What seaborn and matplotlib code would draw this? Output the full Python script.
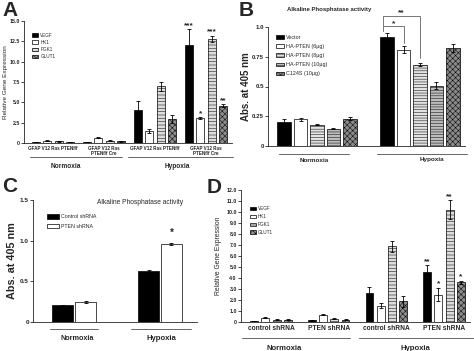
import pandas as pd
import numpy as np
import matplotlib
matplotlib.use('Agg')
import matplotlib.pyplot as plt
from matplotlib.patches import Patch
from matplotlib.lines import Line2D
import seaborn as sns

# %% data
# panel A - relative gene expression, astrocytes
a_conds = ['N1', 'N2', 'H1', 'H2']
a_ticks = ['GFAP V12 Ras PTENf/f', 'GFAP V12 Ras\nPTENf/f Cre',
           'GFAP V12 Ras PTENf/f', 'GFAP V12 Ras\nPTENf/f Cre']
a_genes = ['VEGF', 'HK1', 'PGK1', 'GLUT1']
a_vegf = [0.1, 0.15, 4.1, 12.1]
a_vegf_err = [0.02, 0.03, 1.05, 1.9]
a_hk1 = [0.3, 0.65, 1.45, 3.05]
a_hk1_err = [0.03, 0.05, 0.25, 0.15]
a_pgk1 = [0.2, 0.3, 6.95, 12.8]
a_pgk1_err = [0.03, 0.04, 0.5, 0.4]
a_glut1 = [0.15, 0.2, 2.95, 4.6]
a_glut1_err = [0.02, 0.03, 0.5, 0.15]
a_stars = {('H2', 'VEGF'): '***', ('H2', 'HK1'): '*', ('H2', 'PGK1'): '***', ('H2', 'GLUT1'): '**'}

# panel B - alkaline phosphatase, PTEN overexpression
b_conds = ['Normoxia', 'Hypoxia']
b_groups = ['Vector', 'HA-PTEN (6µg)', 'HA-PTEN (8µg)', 'HA-PTEN (10µg)', 'C124S (10µg)']
b_vector = [0.2, 0.916]
b_vector_err = [0.03, 0.034]
b_ha6 = [0.224, 0.81]
b_ha6_err = [0.01, 0.03]
b_ha8 = [0.178, 0.683]
b_ha8_err = [0.004, 0.012]
b_ha10 = [0.145, 0.507]
b_ha10_err = [0.004, 0.03]
b_c124s = [0.23, 0.824]
b_c124s_err = [0.012, 0.033]

# panel C - alkaline phosphatase, PTEN knockdown
c_conds = ['Normoxia', 'Hypoxia']
c_groups = ['Control shRNA', 'PTEN shRNA']
c_control = [0.206, 0.63]
c_control_err = [0.008, 0.015]
c_pten = [0.243, 0.96]
c_pten_err = [0.01, 0.017]

# panel D - relative gene expression, shRNA
d_conds = ['Nc', 'Np', 'Hc', 'Hp']
d_ticks = ['control shRNA', 'PTEN shRNA', 'control shRNA', 'PTEN shRNA']
d_genes = ['VEGF', 'HK1', 'PGK1', 'GLUT1']
d_vegf = [0.08, 0.15, 2.6, 4.55]
d_vegf_err = [0.03, 0.05, 0.55, 0.6]
d_hk1 = [0.38, 0.67, 1.5, 2.5]
d_hk1_err = [0.06, 0.05, 0.25, 0.6]
d_pgk1 = [0.22, 0.3, 6.9, 10.2]
d_pgk1_err = [0.04, 0.05, 0.5, 0.85]
d_glut1 = [0.22, 0.22, 1.9, 3.6]
d_glut1_err = [0.04, 0.04, 0.5, 0.12]
d_stars = {('Hp', 'VEGF'): '**', ('Hp', 'HK1'): '*', ('Hp', 'PGK1'): '**', ('Hp', 'GLUT1'): '*'}

# %% styles
gene_fill = ['black', 'white', '#dcdcdc', '#8c8c8c']
gene_hatch = [None, None, '-----', 'xxxxxx']
b_fill = ['black', 'white', '#e2e2e2', '#bdbdbd', '#8a8a8a']
b_hatch = [None, None, '------', '------', 'xxxxxx']
c_fill = ['black', 'white']
c_hatch = [None, None]

sns.set_style('ticks')
plt.rcParams['font.family'] = ['Liberation Sans', 'DejaVu Sans']
plt.rcParams['hatch.linewidth'] = 0.35
plt.rcParams['axes.linewidth'] = 0.6

W, H = 474, 351
fig = plt.figure(figsize=(W / 100, H / 100), dpi=100)


def ax_px(left, top, right, bottom):
    return fig.add_axes([left / W, 1 - bottom / H, (right - left) / W, (bottom - top) / H])


def long_df(conds, groups, vals, errs):
    rows = []
    for g, v, e in zip(groups, vals, errs):
        for c, vv, ee in zip(conds, v, e):
            rows.append(dict(cond=c, group=g, val=vv, err=ee))
    return pd.DataFrame(rows)


def bars(ax, df, conds, groups, fills, hatches, width, gap):
    sns.barplot(data=df, x='cond', y='val', hue='group', order=conds, hue_order=groups,
                palette=fills, edgecolor='black', linewidth=0.5, errorbar=None,
                width=width, gap=gap, legend=False, ax=ax)
    for cont, h, g in zip(ax.containers, hatches, groups):
        sub = df[df['group'] == g].set_index('cond').loc[conds]
        for bar, e in zip(cont, sub['err']):
            if h:
                bar.set_hatch(h)
            xc = bar.get_x() + bar.get_width() / 2
            ax.errorbar(xc, bar.get_height(), yerr=e, fmt='none', ecolor='black',
                        elinewidth=0.6, capsize=1.3, capthick=0.6, zorder=5)


def style_ax(ax, ylim, yticks, ytl, tsize):
    sns.despine(ax=ax)
    ax.set_ylim(*ylim)
    ax.set_yticks(yticks)
    ax.set_yticklabels(ytl, fontsize=tsize, fontweight='bold')
    ax.tick_params(axis='y', length=2, width=0.6, pad=1)
    ax.tick_params(axis='x', length=0)
    ax.set_xlabel('')


def legend(ax, groups, fills, hatches, loc, size, anchor, spacing=0.45, hl=1.4, hh=0.7):
    handles = [Patch(facecolor=f, edgecolor='black', hatch=h, linewidth=0.5)
               for f, h in zip(fills, hatches)]
    ax.legend(handles, groups, loc=loc, bbox_to_anchor=anchor, frameon=False,
              fontsize=size, handlelength=hl, handleheight=hh, labelspacing=spacing,
              handletextpad=0.4, borderaxespad=0)


def group_line(x0, x1, y, label, xl, yl, size):
    fig.add_artist(Line2D([x0 / W, x1 / W], [1 - y / H] * 2, color='#666666', lw=0.7))
    fig.text(xl / W, 1 - yl / H, label, ha='center', va='center', fontsize=size,
             fontweight='bold')


def stars(ax, df, conds, groups, marks, off, size):
    for (c, g), s in marks.items():
        cont = ax.containers[groups.index(g)]
        bar = cont[conds.index(c)]
        e = df[(df['cond'] == c) & (df['group'] == g)]['err'].iloc[0]
        ax.text(bar.get_x() + bar.get_width() / 2, bar.get_height() + e + off, s,
                ha='center', va='center', fontsize=size, fontweight='bold')


# %% panel A
ax = ax_px(24, 21, 232, 143)
df_a = long_df(a_conds, a_genes, [a_vegf, a_hk1, a_pgk1, a_glut1],
               [a_vegf_err, a_hk1_err, a_pgk1_err, a_glut1_err])
bars(ax, df_a, a_conds, a_genes, gene_fill, gene_hatch, 0.9, 0.3)
style_ax(ax, (0, 15), np.arange(0, 15.1, 2.5), ['0', '2.5', '5.0', '7.5', '10.0', '12.5', '15.0'], 3.8)
ax.set_xlim(-0.57, 3.51)
ax.set_xticks(range(4))
ax.set_xticklabels(a_ticks, fontsize=3.3, fontweight='bold', va='top', linespacing=1.1)
ax.tick_params(axis='x', pad=2)
ax.set_ylabel('Relative Gene Expression', fontsize=4.6, labelpad=1)
legend(ax, a_genes, gene_fill, gene_hatch, 'upper left', 3.3, (0.03, 0.92))
stars(ax, df_a, a_conds, a_genes, a_stars, 0.45, 6)
group_line(30, 122, 157, 'Normoxia', 66, 167, 4.7)
group_line(128, 233, 157, 'Hypoxia', 177, 167, 4.7)
fig.text(2 / W, 1 - 1 / H, 'A', fontsize=15, fontweight='bold', va='top', ha='left')

# %% panel B
ax = ax_px(268, 27, 465, 146)
df_b = long_df(b_conds, b_groups, [b_vector, b_ha6, b_ha8, b_ha10, b_c124s],
               [b_vector_err, b_ha6_err, b_ha8_err, b_ha10_err, b_c124s_err])
bars(ax, df_b, b_conds, b_groups, b_fill, b_hatch, 0.8, 0.2)
style_ax(ax, (0, 1.0), [0, 0.25, 0.5, 0.75, 1.0], ['0', '0.25', '0.5', '0.75', '1.0'], 4.4)
ax.set_xlim(-0.476, 1.437)
ax.set_xticks([])
ax.set_ylabel('Abs. at 405 nm', fontsize=7, fontweight='bold', labelpad=0.5)
legend(ax, b_groups, b_fill, b_hatch, 'upper left', 3.9, (0.03, 0.95), spacing=0.75)
# significance brackets
vec = ax.containers[0][1]
ha6 = ax.containers[1][1]
ha8 = ax.containers[2][1]
xl = vec.get_x() + vec.get_width() * 0.2
x6 = ha6.get_x() + ha6.get_width() / 2
x8 = ha8.get_x() + ha8.get_width() / 2
kw = dict(color='#777777', lw=0.7, clip_on=False)
ax.plot([xl, xl, x6, x6], [0.965, 1.008, 1.008, 0.866], **kw)
ax.plot([xl, xl, x8, x8], [1.008, 1.092, 1.092, 0.739], **kw)
ax.text((xl + x6) / 2, 1.03, '*', ha='center', va='center', fontsize=6, fontweight='bold')
ax.text((xl + x8) / 2, 1.118, '**', ha='center', va='center', fontsize=6, fontweight='bold')
group_line(279, 349, 154, 'Normoxia', 314, 160, 4.6)
group_line(377, 467, 154, 'Hypoxia', 432, 160, 4.6)
fig.text(329 / W, 1 - 9 / H, 'Alkaline Phosphatase activity', fontsize=4.3,
         fontweight='bold', ha='center', va='center')
fig.text(239 / W, 1 - 1 / H, 'B', fontsize=15, fontweight='bold', va='top', ha='left')

# %% panel C
ax = ax_px(33, 200, 197, 322)
df_c = long_df(c_conds, c_groups, [c_control, c_pten], [c_control_err, c_pten_err])
bars(ax, df_c, c_conds, c_groups, c_fill, c_hatch, 0.53, 0.07)
style_ax(ax, (0, 1.5), [0, 0.5, 1.0, 1.5], ['0', '0.5', '1.0', '1.5'], 4.6)
ax.set_xlim(-0.48, 1.43)
ax.set_xticks([])
ax.set_ylabel('Abs. at 405 nm', fontsize=7.8, fontweight='bold', labelpad=2)
legend(ax, c_groups, c_fill, c_hatch, 'upper left', 3.8, (0.07, 0.9), spacing=0.9, hl=2.3, hh=0.9)
stars(ax, df_c, c_conds, c_groups, {('Hypoxia', 'PTEN shRNA'): '*'}, 0.12, 7)
ax.text(0.65, 0.98, 'Alkaline Phosphatase activity', transform=ax.transAxes,
        fontsize=4.8, ha='center', va='center')
group_line(50, 98, 329, 'Normoxia', 77, 338, 5.2)
group_line(131, 191, 329, 'Hypoxia', 161, 338, 5.6)
fig.text(2 / W, 1 - 177 / H, 'C', fontsize=15, fontweight='bold', va='top', ha='left')

# %% panel D
ax = ax_px(241, 190, 470, 322)
df_d = long_df(d_conds, d_genes, [d_vegf, d_hk1, d_pgk1, d_glut1],
               [d_vegf_err, d_hk1_err, d_pgk1_err, d_glut1_err])
bars(ax, df_d, d_conds, d_genes, gene_fill, gene_hatch, 0.78, 0.3)
style_ax(ax, (0, 12), range(13), ['0'] + [f'{v:.1f}' for v in range(1, 13)], 3.8)
ax.set_xlim(-0.52, 3.45)
ax.set_xticks(range(4))
ax.set_xticklabels(d_ticks, fontsize=4.8, fontweight='bold')
ax.tick_params(axis='x', pad=2)
ax.set_ylabel('Relative Gene Expression', fontsize=4.9, labelpad=3)
legend(ax, d_genes, gene_fill, gene_hatch, 'upper left', 3.3, (0.03, 0.89), spacing=0.6)
stars(ax, df_d, d_conds, d_genes, d_stars, 0.35, 6)
group_line(242, 350, 338, 'Normoxia', 284, 348, 5.6)
group_line(359, 474, 338, 'Hypoxia', 415, 348, 5.6)
fig.text(207 / W, 1 - 178 / H, 'D', fontsize=15, fontweight='bold', va='top', ha='left')

fig.savefig('out.png', dpi=100)
plt.close(fig)
